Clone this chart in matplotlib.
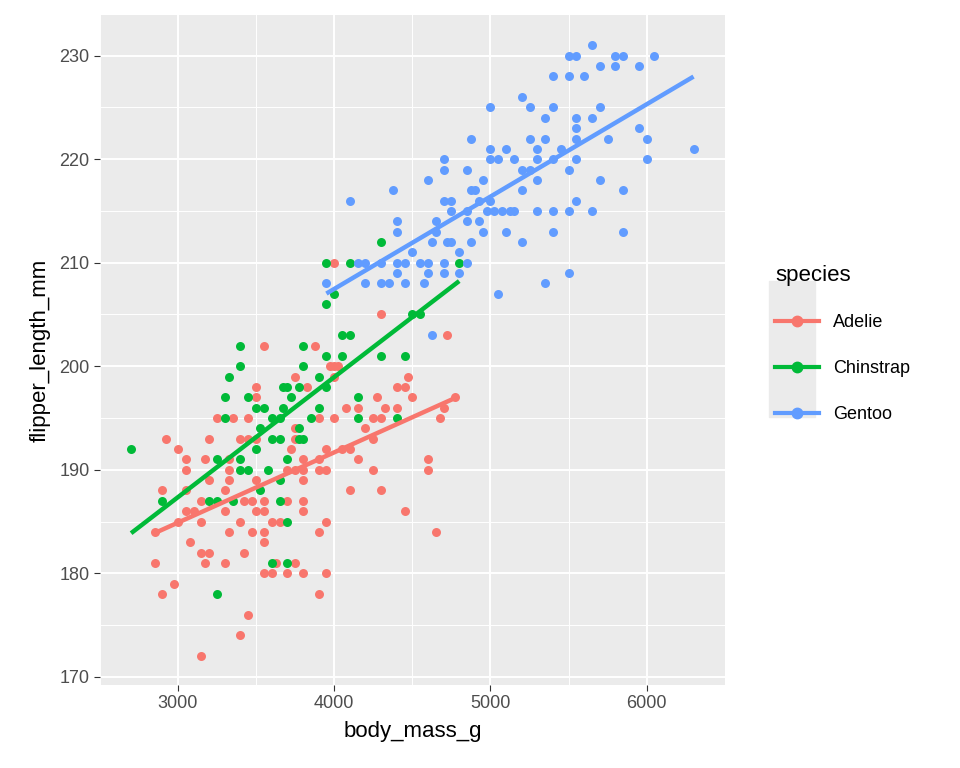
import numpy as np
import matplotlib
matplotlib.use("Agg")
import matplotlib.pyplot as plt
from matplotlib.lines import Line2D

plt.rcParams["font.family"] = "Liberation Sans"

species = ["Adelie", "Chinstrap", "Gentoo"]
colors = ["#F8766D", "#00BA38", "#619CFF"]

# body mass (g) and flipper length (mm)
adelie_mass = [4300, 3550, 3875, 3975, 4000, 4025, 4000, 3750, 3500, 3825, 4400, 4450, 4475,
               3500, 4275, 4500, 4775, 4075, 4150, 4325, 4400, 4700, 3250, 3350, 3450, 3900,
               4000, 4250, 4300, 4675, 3750, 4200, 2925, 3200, 3400, 3450, 3500, 3750, 4250,
               3000, 3725, 3950, 4050, 4100, 3050, 3175, 3325, 3800, 3900, 4150, 4600, 3050,
               3325, 3700, 3750, 3800, 3900, 3950, 4250, 4600, 3200, 3325, 3500, 3800, 2900,
               3050, 3300, 4100, 4300, 3150, 3425, 3475, 3550, 3700, 3800, 3050, 3100, 3300,
               3500, 3550, 3800, 4450, 3000, 3150, 3400, 3600, 3650, 3950, 2850, 3325, 3475,
               3550, 3900, 4650, 3550, 3075, 3150, 3200, 3425, 2850, 3175, 3300, 3625, 3750,
               3550, 3600, 3700, 3800, 3950, 2975, 2900, 3900, 3450, 3400, 3150, 4725, 4000]
adelie_flipper = [205, 202, 202, 200, 200, 200, 199, 199, 198, 198, 198, 198, 199,
                  197, 197, 197, 197, 196, 196, 196, 196, 196, 195, 195, 195, 195,
                  195, 195, 195, 195, 194, 194, 193, 193, 193, 193, 193, 193, 193,
                  192, 192, 192, 192, 192, 191, 191, 191, 191, 191, 191, 191, 190,
                  190, 190, 190, 190, 190, 190, 190, 190, 189, 189, 189, 189, 188,
                  188, 188, 188, 188, 187, 187, 187, 187, 187, 187, 186, 186, 186,
                  186, 186, 186, 186, 185, 185, 185, 185, 185, 185, 184, 184, 184,
                  184, 184, 184, 183, 183, 182, 182, 182, 181, 181, 181, 181, 181,
                  180, 180, 180, 180, 180, 179, 178, 178, 176, 174, 172, 203, 210]

chinstrap_mass = [3950, 4000, 4500, 4550, 4050, 4100, 3400, 3800, 3950, 4050, 4300, 4450,
                  3400, 3800, 3325, 3900, 3675, 3700, 3775, 3950, 3300, 3450, 3725, 4150,
                  3500, 3550, 3675, 3900, 3300, 3600, 3650, 3850, 4150, 4400, 3525, 3775,
                  3600, 3650, 3775, 3800, 3500, 2700, 3250, 3400, 3700, 3400, 3450, 3575,
                  3650, 3525, 2900, 3200, 3250, 3350, 3650, 3700, 3600, 3700, 3250,
                  3950, 4100, 4300, 4800]
chinstrap_flipper = [206, 207, 205, 205, 203, 203, 202, 202, 201, 201, 201, 201,
                     200, 200, 199, 199, 198, 198, 198, 198, 197, 197, 197, 197,
                     196, 196, 196, 196, 195, 195, 195, 195, 195, 195, 194, 194,
                     193, 193, 193, 193, 192, 192, 191, 191, 191, 190, 190, 190,
                     189, 188, 187, 187, 187, 187, 187, 185, 181, 181, 178,
                     210, 210, 212, 210]

gentoo_mass = [5650, 5500, 5550, 5700, 5800, 5850, 6050, 5800, 5950, 5400, 5500, 5600,
               5200, 5250, 5400, 5700, 5000, 5350, 5550, 5650, 5550, 5950, 4875, 5250,
               5350, 5550, 5750, 6000, 5000, 5100, 5300, 5450, 6300, 4700, 5000, 5050,
               5150, 5300, 5400, 5550, 6000, 4700, 4850, 5200, 5250, 5500, 4600, 4950,
               5300, 5700, 4375, 4875, 4900, 5200, 5850, 4100, 4700, 4750, 4925, 5000,
               5550, 4750, 4850, 4975, 5025, 5075, 5125, 5150, 5300, 5400, 5500, 5650,
               4400, 4650, 4850, 4925, 4400, 4650, 4950, 5100, 5400, 5850, 4625, 4725,
               4750, 4875, 5200, 4500, 4800, 4150, 4200, 4300, 4400, 4450, 4550, 4600,
               4700, 4850, 4400, 4600, 4700, 4800, 5500, 3950, 4200, 4300, 4350, 4450,
               4575, 5350, 5050, 4625]
gentoo_flipper = [231, 230, 230, 229, 230, 230, 230, 229, 229, 228, 228, 228,
                  226, 225, 225, 225, 225, 224, 224, 224, 223, 223, 222, 222,
                  222, 222, 222, 222, 221, 221, 221, 221, 221, 220, 220, 220,
                  220, 220, 220, 220, 220, 219, 219, 219, 219, 219, 218, 218,
                  218, 218, 217, 217, 217, 217, 217, 216, 216, 216, 216, 216,
                  216, 215, 215, 215, 215, 215, 215, 215, 215, 215, 215, 215,
                  214, 214, 214, 214, 213, 213, 213, 213, 213, 213, 212, 212,
                  212, 212, 212, 211, 211, 210, 210, 210, 210, 210, 210, 210,
                  210, 210, 209, 209, 209, 209, 209, 208, 208, 208, 208, 208,
                  208, 208, 207, 203]

masses = [adelie_mass, chinstrap_mass, gentoo_mass]
flippers = [adelie_flipper, chinstrap_flipper, gentoo_flipper]

fig = plt.figure(figsize=(9.6, 7.68), dpi=100)
ax = fig.add_axes([0.104, 0.108, 0.651, 0.872])
ax.set_facecolor("#EBEBEB")

for name, col, xs, ys in zip(species, colors, masses, flippers):
    xs = np.array(xs, float)
    ys = np.array(ys, float)
    ax.scatter(xs, ys, s=42, color=col, zorder=3, linewidths=0)
    k, b = np.polyfit(xs, ys, 1)
    xl = np.array([xs.min(), xs.max()])
    ax.plot(xl, k * xl + b, color=col, lw=3.2, zorder=4, solid_capstyle="butt")

ax.set_xlim(2510, 6460)
ax.set_ylim(169.2, 233.9)
ax.set_xticks([3000, 4000, 5000, 6000])
ax.set_yticks(range(170, 231, 10))
ax.set_xticks([2500, 3500, 4500, 5500, 6500], minor=True)
ax.set_yticks(range(175, 231, 10), minor=True)
ax.grid(which="major", color="white", lw=1.4, zorder=0)
ax.grid(which="minor", color="white", lw=0.7, zorder=0)
ax.set_axisbelow(True)
for sp in ax.spines.values():
    sp.set_visible(False)
ax.tick_params(which="major", length=4, color="#333333", labelsize=13, labelcolor="#4D4D4D")
ax.tick_params(which="minor", length=0)
ax.set_xlabel("body_mass_g", fontsize=16, labelpad=6)
ax.set_ylabel("flipper_length_mm", fontsize=16, labelpad=6)

# grey key boxes behind legend entries
for yk in [0.576, 0.516, 0.457]:
    fig.patches.append(plt.Rectangle((0.801, yk), 0.048, 0.058, transform=fig.transFigure,
                                     color="#EBEBEB", zorder=0))

handles = [Line2D([], [], color=c, lw=3, marker="o", markersize=7.5) for c in colors]
leg = fig.legend(handles, species, title="species", loc="upper left",
                 bbox_to_anchor=(0.8, 0.665), frameon=False, fontsize=13,
                 title_fontsize=16, handlelength=2.4, labelspacing=1.6,
                 handletextpad=0.8, borderaxespad=0)
leg._legend_box.align = "left"

fig.savefig("out.png", dpi=100)
